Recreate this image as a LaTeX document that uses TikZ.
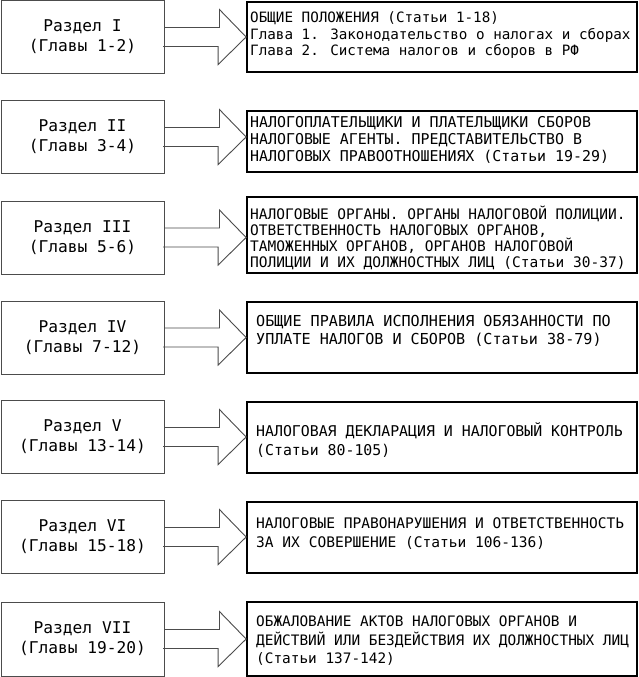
\documentclass[tikz,border=0pt]{standalone}
\usepackage{fontspec}
\newfontfamily\razdelfont{DejaVu Sans Mono}
\tikzset{
	razdel/.style={draw=black!70,line width=0.9pt,minimum width=163pt,minimum height=73pt,inner sep=0pt,align=center,font={\razdelfont\fontsize{16.2}{20}\selectfont}},
	glavy/.style={draw=black,line width=1.7pt,minimum width=390pt,inner sep=0pt},
	glavytext/.style={anchor=west,inner sep=0pt,align=left,font={\razdelfont\fontsize{14.9}{17}\selectfont}},
	pfeil/.style={draw=black!70,line width=0.9pt}
}
\begin{document}
\begin{tikzpicture}[x=1pt,y=-1pt]
	\useasboundingbox[fill=white] (0,0) rectangle (638,677);
	% left column
	\node[razdel] (l1) at (82.5,37) {Раздел I\\(Главы 1-2)};
	\node[razdel] (l2) at (82.5,137) {Раздел II\\(Главы 3-4)};
	\node[razdel] (l3) at (82.5,237.5) {Раздел III\\(Главы 5-6)};
	\node[razdel] (l4) at (82.5,337.5) {Раздел IV\\(Главы 7-12)};
	\node[razdel] (l5) at (82.5,437) {Раздел V\\(Главы 13-14)};
	\node[razdel] (l6) at (82.5,537) {Раздел VI\\(Главы 15-18)};
	\node[razdel,minimum height=74pt] (l7) at (82.5,639) {Раздел VII\\(Главы 19-20)};
	% right column
	\node[glavy,minimum height=70pt] (r1) at (442,37) {};
	\node[glavy,minimum height=61pt] (r2) at (442,141.5) {};
	\node[glavy,minimum height=76pt] (r3) at (442,235) {};
	\node[glavy,minimum height=71pt] (r4) at (442,337.5) {};
	\node[glavy,minimum height=71pt] (r5) at (442,437.5) {};
	\node[glavy,minimum height=71pt] (r6) at (442,537.5) {};
	\node[glavy,minimum height=74pt] (r7) at (442,639) {};
	\node[glavytext,font={\razdelfont\fontsize{14.25}{16.5}\selectfont}] (t1) at (250,35.5) {ОБЩИЕ ПОЛОЖЕНИЯ (Статьи 1-18)\\Глава 1. Законодательство о налогах и сборах\\Глава 2. Система налогов и сборов в РФ};
	\node[glavytext] (t2) at (250,140) {НАЛОГОПЛАТЕЛЬЩИКИ И ПЛАТЕЛЬЩИКИ СБОРОВ\\НАЛОГОВЫЕ АГЕНТЫ. ПРЕДСТАВИТЕЛЬСТВО В\\НАЛОГОВЫХ ПРАВООТНОШЕНИЯХ (Статьи 19-29)};
	\node[glavytext,font={\razdelfont\fontsize{14.5}{16.2}\selectfont}] (t3) at (250,238) {НАЛОГОВЫЕ ОРГАНЫ. ОРГАНЫ НАЛОГОВОЙ ПОЛИЦИИ.\\ОТВЕТСТВЕННОСТЬ НАЛОГОВЫХ ОРГАНОВ,\\ТАМОЖЕННЫХ ОРГАНОВ, ОРГАНОВ НАЛОГОВОЙ\\ПОЛИЦИИ И ИХ ДОЛЖНОСТНЫХ ЛИЦ (Статьи 30-37)};
	\node[glavytext,font={\razdelfont\fontsize{15.1}{18}\selectfont}] (t4) at (256,331) {ОБЩИЕ ПРАВИЛА ИСПОЛНЕНИЯ ОБЯЗАННОСТИ ПО\\УПЛАТЕ НАЛОГОВ И СБОРОВ (Статьи 38-79)};
	\node[glavytext,font={\razdelfont\fontsize{14.85}{18.5}\selectfont}] (t5) at (256,440) {НАЛОГОВАЯ ДЕКЛАРАЦИЯ И НАЛОГОВЫЙ КОНТРОЛЬ\\(Статьи 80-105)};
	\node[glavytext,font={\razdelfont\fontsize{14.55}{18.5}\selectfont}] (t6) at (256,533.5) {НАЛОГОВЫЕ ПРАВОНАРУШЕНИЯ И ОТВЕТСТВЕННОСТЬ\\ЗА ИХ СОВЕРШЕНИЕ (Статьи 106-136)};
	\node[glavytext,font={\razdelfont\fontsize{14.4}{18.5}\selectfont}] (t7) at (256,641) {ОБЖАЛОВАНИЕ АКТОВ НАЛОГОВЫХ ОРГАНОВ И\\ДЕЙСТВИЙ ИЛИ БЕЗДЕЙСТВИЯ ИХ ДОЛЖНОСТНЫХ ЛИЦ\\(Статьи 137-142)};
	% block arrows
	\foreach \i in {1,...,7}{
		\draw[pfeil] (l\i.east) ++(0,-9.5) -- ++(55,0) -- ++(0,-18) -- (r\i.west |- l\i.east) -- ++(-28,27.5) -- ++(0,-18) -- ++(-55,0);
	}
\end{tikzpicture}
\end{document}
